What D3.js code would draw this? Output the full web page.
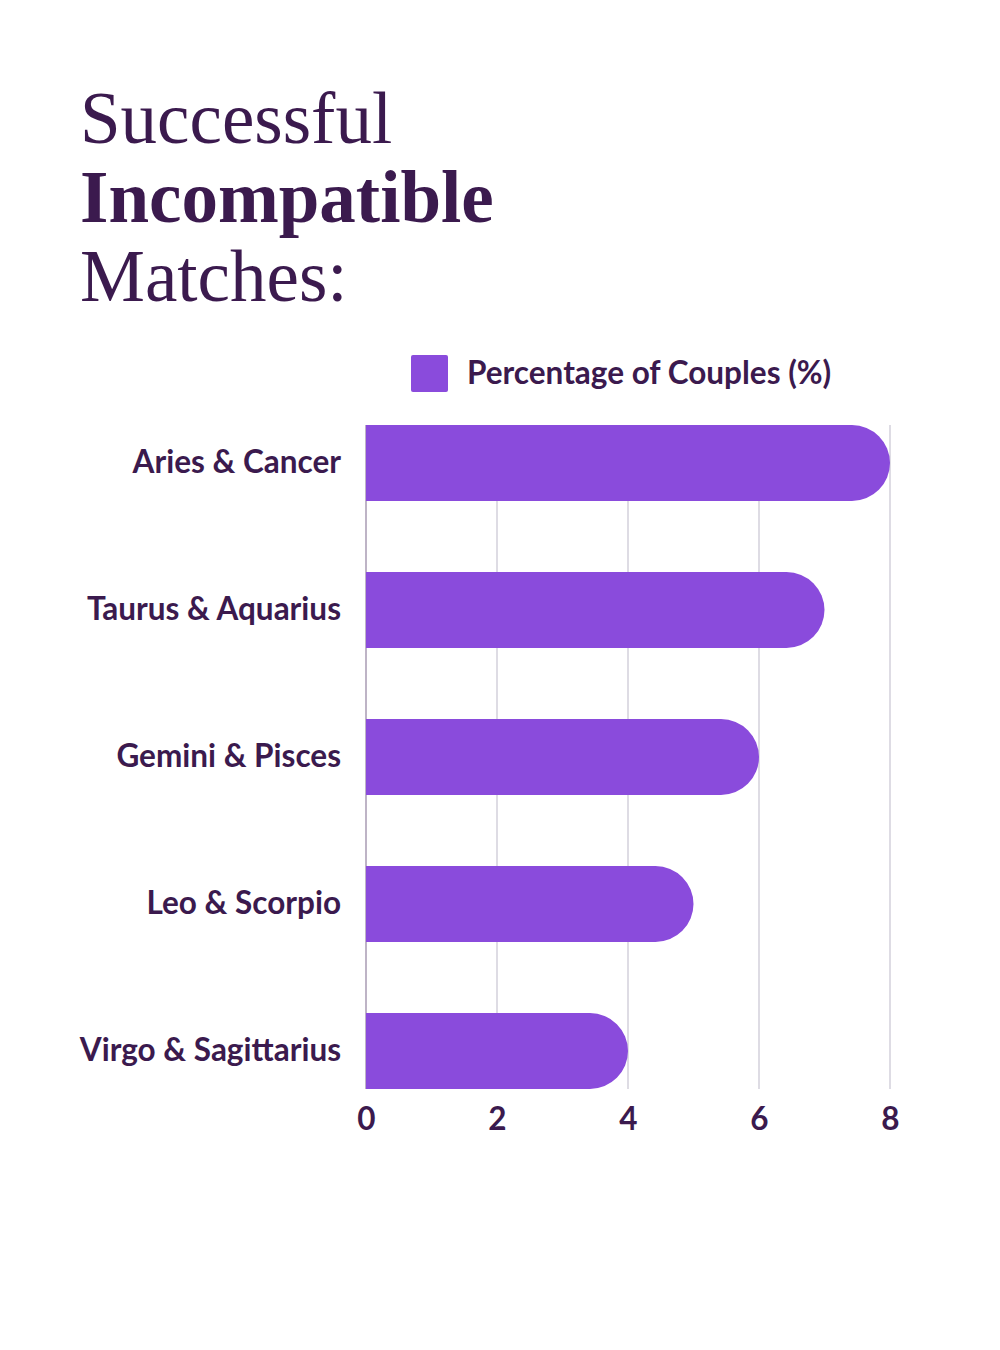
<!DOCTYPE html>
<html>
<head>
<meta charset="utf-8">
<script src="https://cdn.jsdelivr.net/npm/d3@7"></script>
<style>
  body { margin: 0; background: #fff; }
  svg { display: block; }
</style>
</head>
<body>
<div id="chart"></div>
<script>
var pairs = ['Aries & Cancer', 'Taurus & Aquarius', 'Gemini & Pisces', 'Leo & Scorpio', 'Virgo & Sagittarius']
var percents = [8, 7, 6, 5, 4]
var xTicks = [0, 2, 4, 6, 8]
var seriesName = 'Percentage of Couples (%)'
var titleLines = ['Successful', 'Incompatible', 'Matches:']

var width = 1000, height = 1350
var ink = '#3b1a4e', barColor = '#8a4bdc'

var svg = d3.select('#chart')
    .append('svg')
    .attr('width', width)
    .attr('height', height)

svg.append('rect').attr('width', width).attr('height', height).attr('fill', '#fff')

// title
var title = svg.append('g')
title.selectAll('text')
    .data(titleLines)
    .enter()
    .append('text')
    .attr('x', 80)
    .attr('y', function(d, i) { return 143 + i * 79 })
    .attr('font-family', '"Liberation Serif", "DejaVu Serif", serif')
    .attr('font-size', 73)
    .attr('font-weight', function(d, i) { return i == 1 ? 700 : 400 })
    .attr('fill', ink)
    .text(function(d) { return d })

var x = d3.scaleLinear()
    .domain([0, 8])
    .range([366, 890])

var y = d3.scaleBand()
    .domain(pairs)
    .range([425, 1089])
    .paddingInner(0.483)
    .paddingOuter(0)

// grid
svg.append('g')
    .selectAll('line')
    .data(xTicks.slice(1))
    .enter()
    .append('line')
    .attr('x1', function(d) { return x(d) })
    .attr('x2', function(d) { return x(d) })
    .attr('y1', 425)
    .attr('y2', 1089)
    .attr('stroke', '#d3d1db')
    .attr('stroke-width', 1.5)

svg.append('line')
    .attr('x1', x(0)).attr('x2', x(0))
    .attr('y1', 425).attr('y2', 1089)
    .attr('stroke', '#a99bb3')
    .attr('stroke-width', 1.5)

// bars with rounded right end
var r = y.bandwidth() / 2
svg.append('g')
    .selectAll('path')
    .data(pairs)
    .enter()
    .append('path')
    .attr('fill', barColor)
    .attr('d', function(d, i) {
        var x0 = x(0), x1 = x(percents[i]), y0 = y(d), h = y.bandwidth()
        var p = d3.path()
        p.moveTo(x0, y0)
        p.lineTo(x1 - r, y0)
        p.arcTo(x1, y0, x1, y0 + r, r)
        p.arcTo(x1, y0 + h, x1 - r, y0 + h, r)
        p.lineTo(x0, y0 + h)
        p.closePath()
        return p.toString()
    })

// category labels
var yAxis = svg.append('g')
    .attr('transform', 'translate(' + x(0) + ',0)')
    .call(d3.axisLeft(y).tickSize(0).tickPadding(25))
yAxis.select('.domain').remove()
yAxis.selectAll('text')
    .attr('font-family', 'Lato, sans-serif')
    .attr('font-size', 31.5)
    .attr('font-weight', 700)
    .attr('fill', ink)

// x axis
var xAxis = svg.append('g')
    .attr('transform', 'translate(0,1089)')
    .call(d3.axisBottom(x).tickValues(xTicks).tickSize(0).tickPadding(19).tickFormat(d3.format('d')))
xAxis.select('.domain').remove()
xAxis.selectAll('text')
    .attr('font-family', 'Lato, sans-serif')
    .attr('font-size', 31.5)
    .attr('font-weight', 700)
    .attr('fill', ink)

// legend
var legend = svg.append('g')
legend.append('rect')
    .attr('x', 411).attr('y', 355)
    .attr('width', 37).attr('height', 37)
    .attr('rx', 2)
    .attr('fill', barColor)
legend.append('text')
    .attr('x', 467).attr('y', 384)
    .attr('font-family', 'Lato, sans-serif')
    .attr('font-size', 31.5)
    .attr('font-weight', 700)
    .attr('fill', ink)
    .text(seriesName)
</script>
</body>
</html>
